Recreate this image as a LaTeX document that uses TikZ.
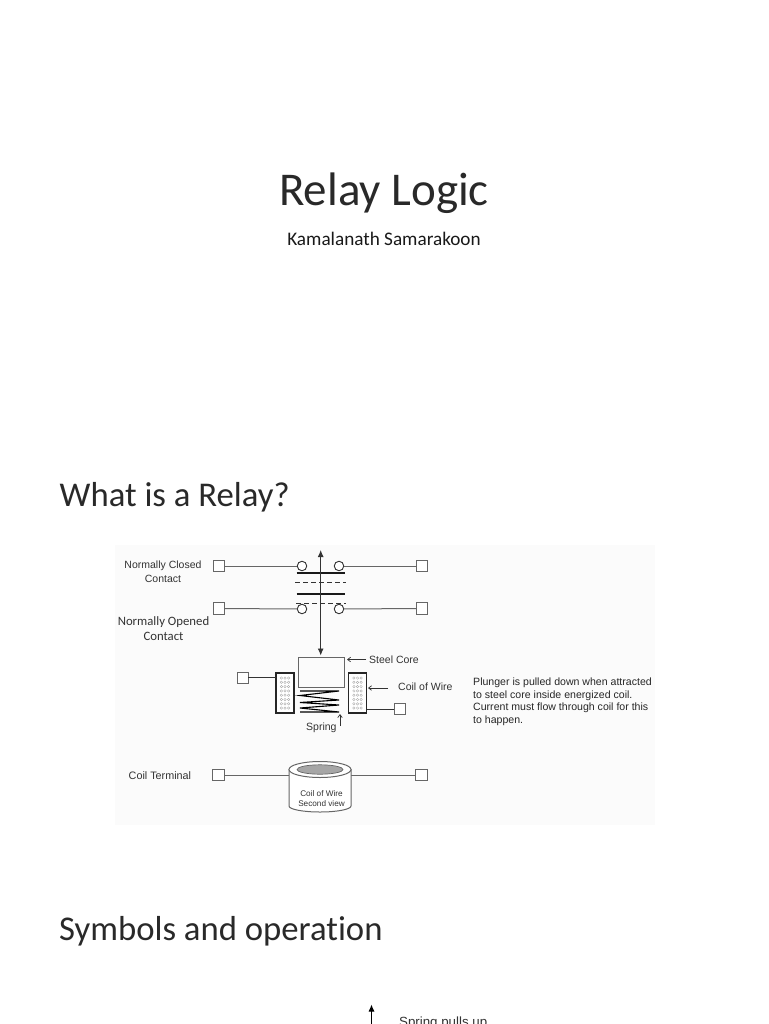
\documentclass[tikz,border=0pt]{standalone}
\usepackage{fontspec}
\setmainfont[Ligatures=CommonOff]{Carlito}
\newfontfamily\arialf{Liberation Sans}
\usetikzlibrary{arrows.meta,shapes.geometric}
\definecolor{wire}{HTML}{666666}
\definecolor{ink}{HTML}{333333}
\tikzset{
  x=1pt,y=-1pt,
  term/.style={draw=wire,line width=1pt,fill=white,minimum size=11.5pt,inner sep=0pt,outer sep=0pt},
  contact/.style={circle,draw=ink,line width=0.9pt,fill=white,minimum size=9.5pt,inner sep=0pt,outer sep=0pt},
  wireline/.style={draw=wire,line width=1pt},
  bar/.style={draw=black!90,line width=1.6pt},
  dashbar/.style={draw=ink,line width=0.8pt,dash pattern=on 5pt off 3pt},
  head/.style={-{Latex[length=7pt,width=6pt]}},
  thinhead/.style={-{Straight Barb[length=3pt,width=4.5pt]}},
  label/.style={font=\arialf\fontsize{10.5}{12.5}\selectfont,text=ink,inner sep=0pt,align=center},
  heading/.style={font=\fontsize{34.7}{40}\selectfont,text=black!84,inner sep=0pt,anchor=base west},
  coilbox/.style={draw=black!85,line width=1.1pt,fill=white,minimum width=18pt,minimum height=40pt,inner sep=0pt,outer sep=0pt},
}
\begin{document}
\begin{tikzpicture}
\useasboundingbox (0,0) rectangle (768,1024);
\fill[white] (0,0) rectangle (768,1024);
\fill[black!1.5] (115,545) rectangle (655,825);

% titles
\node[font=\fontsize{47}{52}\selectfont,text=black!84,inner sep=0pt] (title) at (384,193) {Relay Logic};
\node[font=\fontsize{19.2}{23}\selectfont,text=black!90,inner sep=0pt] (author) at (384,239) {Kamalanath Samarakoon};
\node[heading] (h1) at (59.5,506) {What is a Relay?};
\node[heading] (h2) at (59,940) {Symbols and operation};

% contacts
\node[term] (nclt) at (219,566) {};
\node[term] (ncrt) at (422,566) {};
\node[term] (nolt) at (219,608.5) {};
\node[term] (nort) at (422,608.5) {};
\node[contact] (ncl) at (302,566) {};
\node[contact] (ncr) at (339,566) {};
\node[contact] (nol) at (302,609) {};
\node[contact] (nor) at (339,609) {};
\draw[wireline] (nclt) -- (ncl);
\draw[wireline] (ncr) -- (ncrt);
\draw[wireline] (nolt) -- (nol);
\draw[wireline] (nor) -- (nort);
\coordinate (b1a) at (296.5,573); \coordinate (b1b) at (344.5,573);
\coordinate (b2a) at (296.5,594); \coordinate (b2b) at (344.5,594);
\coordinate (d1a) at (295,582); \coordinate (d1b) at (346,582);
\coordinate (d2a) at (296,603); \coordinate (d2b) at (346,603);
\draw[bar] (b1a) -- (b1b);
\draw[bar] (b2a) -- (b2b);
\draw[dashbar] (d1a) -- (d1b);
\draw[dashbar] (d2a) -- (d2b);
\coordinate (shaftmid) at (320.7,600);
\coordinate (shafttop) at (320.7,550);
\coordinate (shaftbot) at (320.7,655.5);
\draw[draw=ink,line width=0.9pt,head] (shaftmid) -- (shafttop);
\draw[draw=ink,line width=0.9pt,head] (shaftmid) -- (shaftbot);

% core and coil
\node[draw=wire,line width=1pt,minimum width=46pt,minimum height=30pt,inner sep=0pt,outer sep=0pt] (core) at (321,672) {};
\node[coilbox] (coill) at (285,693) {};
\node[coilbox] (coilr) at (357.5,693) {};
\foreach \cx in {285,357.5}
  \foreach \dx in {-3.6,0,3.6}
    \foreach \dy in {-15,-10.7,-6.4,-2.1,2.2,6.5,10.8,15}
      \draw[black!35,line width=0.35pt] (\cx+\dx,693+\dy) circle (1.25);
\node[term,minimum size=11pt] (cl) at (242.5,677.5) {};
\node[term,minimum size=11pt] (cr) at (399.5,709) {};
\draw[draw=ink,line width=0.9pt] (cl) -- (coill.west |- cl);
\draw[draw=ink,line width=0.9pt] (coilr.east |- cr) -- (cr);
\draw[black,line width=1.1pt,line join=miter]
  (300,691) -- (339,691) -- (300,695.5) -- (339,700) -- (300,702.5) -- (339,705) -- (300,708) -- (339,712) -- (300,712);

\node[label,anchor=west] (steel) at (369,660) {Steel Core};
\node[label,anchor=west] (coilwire) at (398,686.5) {Coil of Wire};
\node[label,anchor=west] (springt) at (306,728) {Spring};
\coordinate (sa) at (366,659.5); \coordinate (sb) at (347,659.5);
\draw[draw=ink,line width=0.7pt,thinhead] (sa) -- (sb);
\coordinate (ca) at (388,688); \coordinate (cb) at (368,688);
\draw[draw=ink,line width=0.7pt,thinhead] (ca) -- (cb);
\coordinate (sp1) at (340,726); \coordinate (sp2) at (340,714);
\draw[draw=ink,line width=0.7pt,thinhead] (sp1) -- (sp2);

% left labels
\node[label] (nct) at (163,571.5) {Normally Closed\\[1pt]Contact};
\node[font=\fontsize{12.75}{15}\selectfont,text=ink,inner sep=0pt,align=center] (not) at (163.5,628.5) {Normally Opened\\Contact};
\node[font=\arialf\fontsize{10.8}{13}\selectfont,text=ink,inner sep=0pt,anchor=west] (ct) at (128.5,776) {Coil Terminal};

% note
\node[font=\arialf\fontsize{10.57}{12.45}\selectfont,text=black!85,inner sep=0pt,align=left,anchor=north west] (note) at (473,678)
 {Plunger is pulled down when attracted\\to steel core inside energized coil.\\Current must flow through coil for this\\to happen.};

% second view
\node[term] (svl) at (218.5,775) {};
\node[term] (svr) at (421.5,775) {};
\coordinate (cyl) at (289,775); \coordinate (cyr) at (351,775);
\draw[wireline] (svl) -- (cyl);
\draw[wireline] (cyr) -- (svr);
\draw[draw=wire,line width=1pt,fill=white] (289,769) -- (289,806) arc[start angle=180,end angle=0,x radius=31,y radius=6] -- (351,769);
\draw[draw=wire,line width=1pt,fill=white] (320,769.5) ellipse [x radius=31,y radius=8];
\draw[draw=wire,line width=0.7pt,fill=black!35] (320,769.5) ellipse [x radius=23,y radius=4.7];
\node[font=\arialf\fontsize{8.2}{10}\selectfont,text=ink,inner sep=0pt,align=center] (svt) at (321.5,799) {Coil of Wire\\Second view};

% bottom
\coordinate (ba) at (371.5,1030); \coordinate (bb) at (371.5,1004.5);
\draw[draw=black,line width=0.9pt,head] (ba) -- (bb);
\node[font=\arialf\fontsize{13.3}{16}\selectfont,text=ink,inner sep=0pt,anchor=base west] (pull) at (399,1026) {Spring pulls up};
\end{tikzpicture}
\end{document}
